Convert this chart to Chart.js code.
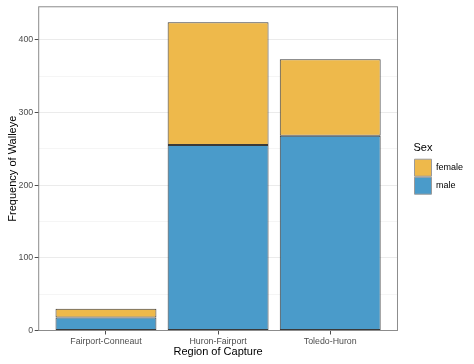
<!DOCTYPE html>
<html>
<head>
<meta charset="utf-8">
<script src="https://cdn.jsdelivr.net/npm/chart.js@4"></script>
<style>
  html, body { margin: 0; padding: 0; background: #fff; }
  #wrap { width: 474px; height: 364px; }
</style>
</head>
<body>
<div id="wrap"><canvas id="c" width="474" height="364"></canvas></div>
<script>
const regions = ['Fairport-Conneaut', 'Huron-Fairport', 'Toledo-Huron'];
const maleCounts = [18, 255, 268];
const femaleCounts = [12, 169, 105];
const yTicks = [0, 100, 200, 300, 400];

const FONT = "'Liberation Sans', Arial, sans-serif";
const yMax = Math.max(...regions.map((_, i) => maleCounts[i] + femaleCounts[i])) * 1.05;

// thin grey box round the plotting panel, like theme_bw
const panelBorder = {
  id: 'panelBorder',
  afterDraw(chart) {
    const { ctx, chartArea: a } = chart;
    ctx.save();
    ctx.strokeStyle = '#8c8c8c';
    ctx.lineWidth = 1;
    ctx.strokeRect(a.left, a.top, a.right - a.left, a.bottom - a.top);
    ctx.restore();
  }
};

// move the legend block to where ggplot puts it
const legendSpot = {
  id: 'legendSpot',
  afterLayout(chart) {
    const lg = chart.legend;
    const w = lg.right - lg.left, h = lg.bottom - lg.top;
    lg.left = 413.5; lg.right = 413.5 + w;
    lg.top = 142; lg.bottom = 142 + h;
  }
};

new Chart(document.getElementById('c'), {
  type: 'bar',
  data: {
    datasets: [
      {
        label: 'male',
        data: regions.map((r, i) => ({ x: i, y: maleCounts[i] })),
        backgroundColor: '#4a9bca',
        borderColor: '#3a3a3a',
        borderWidth: 1,
        borderSkipped: false
      },
      {
        label: 'female',
        data: regions.map((r, i) => ({ x: i, y: femaleCounts[i] })),
        backgroundColor: '#eeb94b',
        borderColor: '#3a3a3a',
        borderWidth: 1,
        borderSkipped: false
      }
    ]
  },
  options: {
    responsive: false,
    animation: false,
    layout: { padding: { left: 0, top: 5, right: 17, bottom: 0 } },
    datasets: { bar: { barPercentage: 1, categoryPercentage: 0.9 } },
    plugins: {
      tooltip: { enabled: false },
      legend: {
        position: 'right',
        reverse: true,
        align: 'start',
        title: {
          display: true,
          text: 'Sex',
          position: 'start',
          color: '#000',
          font: { family: FONT, size: 11 },
          padding: { top: 0, bottom: 3 }
        },
        labels: {
          boxWidth: 17,
          boxHeight: 17,
          padding: 1,
          color: '#000',
          font: { family: FONT, size: 9 },
          generateLabels(chart) {
            return chart.data.datasets.map((ds, i) => ({
              text: ds.label,
              fillStyle: ds.backgroundColor,
              strokeStyle: '#9a9a9a',
              lineWidth: 1,
              datasetIndex: i
            }));
          }
        }
      }
    },
    scales: {
      x: {
        type: 'linear',
        stacked: true,
        offset: false,
        min: -0.6,
        max: 2.6,
        afterBuildTicks(scale) {
          scale.ticks = regions.map((r, i) => ({ value: i }));
        },
        afterFit(scale) { scale.height = 33.5; },
        grid: {
          offset: false,
          drawOnChartArea: false,
          drawTicks: true,
          tickLength: 4,
          tickColor: '#4d4d4d'
        },
        border: { display: false },
        ticks: {
          color: '#4d4d4d',
          font: { family: FONT, size: 8.8 },
          padding: 2,
          maxRotation: 0,
          autoSkip: false,
          callback: v => regions[v]
        },
        title: {
          display: true,
          text: 'Region of Capture',
          color: '#000',
          font: { family: FONT, size: 11 },
          padding: { top: 0, bottom: 5.7 }
        }
      },
      y: {
        stacked: true,
        min: 0,
        max: yMax,
        afterBuildTicks(scale) {
          const t = [];
          for (let v = 0; v <= yMax; v += 50) t.push({ value: v });
          scale.ticks = t;
        },
        afterFit(scale) { scale.width = 38.7; },
        grid: {
          color: ctx => (yTicks.includes(ctx.tick.value) ? '#ebebeb' : '#f5f5f5'),
          tickColor: ctx => (yTicks.includes(ctx.tick.value) ? '#4d4d4d' : 'rgba(0,0,0,0)'),
          tickLength: 4,
          lineWidth: 1
        },
        border: { display: false },
        ticks: {
          color: '#4d4d4d',
          font: { family: FONT, size: 8.8 },
          padding: 1.5,
          autoSkip: false,
          callback: v => (yTicks.includes(v) ? String(v) : '')
        },
        title: {
          display: true,
          text: 'Frequency of Walleye',
          color: '#000',
          font: { family: FONT, size: 11 },
          padding: { top: 6, bottom: 0 }
        }
      }
    }
  },
  plugins: [panelBorder, legendSpot]
});
</script>
</body>
</html>
